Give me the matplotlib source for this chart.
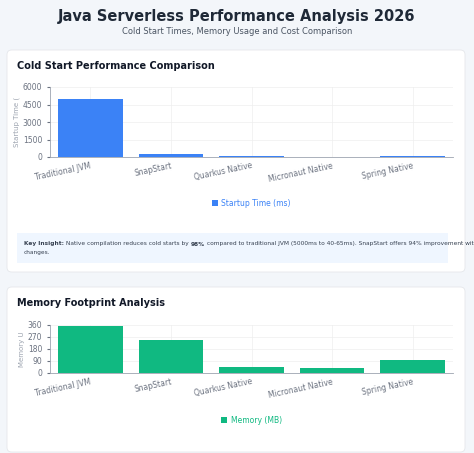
import matplotlib
matplotlib.use("Agg")
import matplotlib.pyplot as plt
from matplotlib.patches import FancyBboxPatch, Rectangle

categories = ["Traditional JVM", "SnapStart", "Quarkus Native", "Micronaut Native", "Spring Native"]
startup_ms = [5000, 250, 50, 40, 120]
memory_mb = [350, 250, 45, 35, 95]
startup_ticks = [0, 1500, 3000, 4500, 6000]
memory_ticks = [0, 90, 180, 270, 360]

W, H = 474, 453
fig = plt.figure(figsize=(W/100, H/100), dpi=100)
fig.patch.set_facecolor("#f3f6fa")

def fx(x): return x / W
def fy(y): return 1 - y / H

fig.text(0.5, fy(16), "Java Serverless Performance Analysis 2026", ha="center", va="center",
         fontsize=10.5, fontweight="bold", color="#1f2937")
fig.text(0.5, fy(32), "Cold Start Times, Memory Usage and Cost Comparison", ha="center", va="center",
         fontsize=6, color="#4b5563")

for (y0, y1) in [(50, 272), (287, 452)]:
    fig.patches.append(FancyBboxPatch((fx(7), fy(y1)), fx(458), (y1 - y0) / H,
                                      boxstyle="round,pad=0,rounding_size=0.01",
                                      transform=fig.transFigure, facecolor="white",
                                      edgecolor="#e5e7eb", linewidth=0.6, zorder=-2))

fig.text(fx(17), fy(66), "Cold Start Performance Comparison", fontsize=7, fontweight="bold",
         color="#111827", va="center")
fig.text(fx(17), fy(303), "Memory Footprint Analysis", fontsize=7, fontweight="bold",
         color="#111827", va="center")

fig.patches.append(Rectangle((fx(17), fy(263)), fx(448 - 17), (263 - 233) / H,
                             transform=fig.transFigure, facecolor="#eff6ff", edgecolor="none", zorder=-1))

renderer = fig.canvas.get_renderer()
runs = [("Key Insight:", "bold"), (" Native compilation reduces cold starts by ", "normal"),
        ("98%", "bold"),
        (" compared to traditional JVM (5000ms to 40-65ms). SnapStart offers 94% improvement with minimal code", "normal")]
xp = 24
for s, w in runs:
    t = fig.text(fx(xp), fy(244), s, fontsize=4.2, fontweight=w, color="#374151", va="center")
    xp += t.get_window_extent(renderer).width
fig.text(fx(24), fy(253), "changes.", fontsize=4.2, color="#374151", va="center")

def draw(ax, vals, ticks, color, ylabel, legend, lo):
    x = range(len(categories))
    ax.bar(x, vals, width=0.8, color=color, label=legend, zorder=3)
    ax.set_xlim(-0.5, len(categories) - 0.5)
    ax.set_ylim(0, ticks[-1])
    ax.set_yticks(ticks)
    ax.set_xticks(list(x))
    ax.set_xticklabels(categories, rotation=12, ha="right", fontsize=5.5, color="#6b7280",
                       rotation_mode="anchor")
    ax.tick_params(axis="y", labelsize=5.5, colors="#6b7280", length=2)
    ax.tick_params(axis="x", length=0, pad=3)
    ax.grid(True, color="#eeeeee", linewidth=0.5, zorder=0)
    for s in ["top", "right"]:
        ax.spines[s].set_visible(False)
    for s in ["left", "bottom"]:
        ax.spines[s].set_color("#9ca3af")
        ax.spines[s].set_linewidth(0.6)
    ax.set_ylabel(ylabel, fontsize=5, color="#9ca3af", labelpad=2)
    ax.set_facecolor("white")
    leg = ax.legend(loc="upper center", bbox_to_anchor=(0.5, lo), frameon=False,
                    fontsize=5.5, handlelength=0.8, handleheight=0.8, handletextpad=0.4)
    for t in leg.get_texts():
        t.set_color(color)

ax1 = fig.add_axes([fx(50), fy(157), fx(403), 70 / H], zorder=2)
draw(ax1, startup_ms, startup_ticks, "#3b82f6", "Startup Time (", "Startup Time (ms)", -0.5)
ax2 = fig.add_axes([fx(50), fy(373), fx(403), 48 / H], zorder=2)
draw(ax2, memory_mb, memory_ticks, "#10b981", "Memory U", "Memory (MB)", -0.75)

fig.savefig("out.png", dpi=100)
